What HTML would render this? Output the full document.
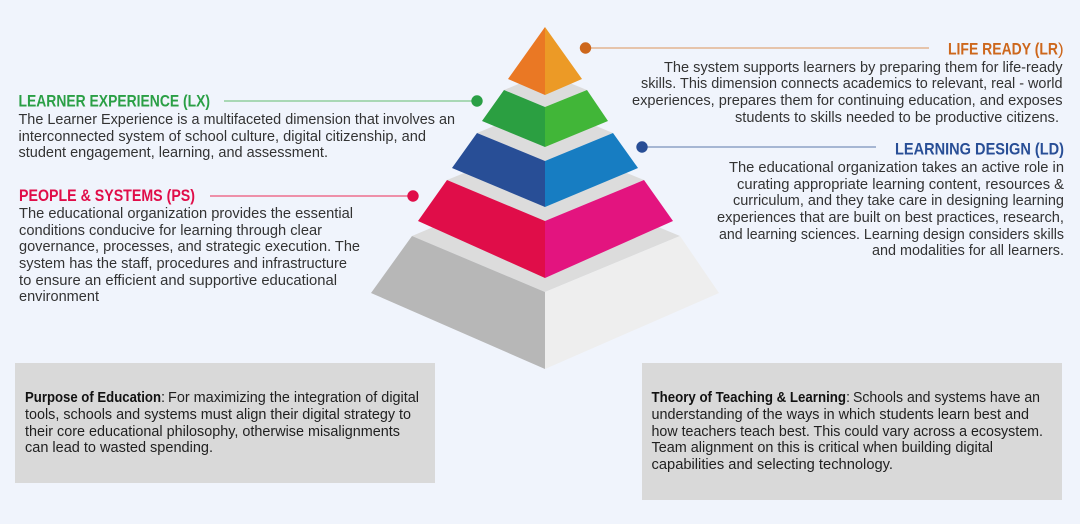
<!DOCTYPE html>
<html><head><meta charset="utf-8"><style>
html,body{margin:0;padding:0;background:#f0f4fc;width:1080px;height:524px;overflow:hidden}
svg{display:block}
text{font-family:"Liberation Sans",sans-serif}
.b{font-size:14.6px;fill:#333}
.k{font-size:14.6px;fill:#1f1f1f}
.kb{font-size:14.6px;fill:#111;font-weight:bold}
.h{font-size:17px;font-weight:bold}
</style></head><body>
<svg width="1080" height="524" viewBox="0 0 1080 524" xmlns="http://www.w3.org/2000/svg">
<rect width="1080" height="524" fill="#f0f4fc"/>
<rect x="15" y="363" width="420" height="120" fill="#d9d9d9"/>
<rect x="642" y="363" width="420" height="137" fill="#d9d9d9"/>

<!-- pyramid -->
<polygon points="412,236 545,180 680,236 545,292" fill="#dcdcdc"/>
<polygon points="371,293 412,236 545,292 545,369" fill="#b7b7b7"/>
<polygon points="545,292 680,236 719,293 545,369" fill="#eeeeee"/>
<polygon points="447,180 545,140 644,180 545,221" fill="#dcdcdc"/>
<polygon points="418,221 447,180 545,221 545,278" fill="#e00d49"/>
<polygon points="545,221 644,180 673,221 545,278" fill="#e3147f"/>
<polygon points="477,133 545,105 613,133 545,161" fill="#dcdcdc"/>
<polygon points="452,168 477,133 545,161 545,207" fill="#284e96"/>
<polygon points="545,161 613,133 638,168 545,207" fill="#177dc2"/>
<polygon points="504,90 545,73 587,90 545,107" fill="#dcdcdc"/>
<polygon points="482,121 504,90 545,107 545,147" fill="#2b9f41"/>
<polygon points="545,107 587,90 608,121 545,147" fill="#41b638"/>
<polygon points="545,27 508,79 545,95" fill="#ea7824"/>
<polygon points="545,27 582,79 545,95" fill="#ec9a26"/>

<!-- connectors -->
<line x1="224" y1="101" x2="477" y2="101" stroke="#a9d8b5" stroke-width="2"/>
<circle cx="477" cy="101" r="5.7" fill="#2a9f45"/>
<line x1="210" y1="196" x2="413" y2="196" stroke="#ee8fa9" stroke-width="2"/>
<circle cx="413" cy="196" r="5.7" fill="#e00d49"/>
<line x1="585" y1="48" x2="929" y2="48" stroke="#e6c4ab" stroke-width="2"/>
<circle cx="585.5" cy="48" r="5.7" fill="#cd671c"/>
<line x1="642" y1="147" x2="876" y2="147" stroke="#a6b6d3" stroke-width="2"/>
<circle cx="642" cy="147" r="5.7" fill="#284e96"/>

<!-- LX -->
<text class="h" fill="#2a9f45" x="18.5" y="106.5" textLength="191.5" lengthAdjust="spacingAndGlyphs">LEARNER EXPERIENCE (LX)</text>
<text class="b" x="18.5" y="124" textLength="436.5" lengthAdjust="spacingAndGlyphs">The Learner Experience is a multifaceted dimension that involves an</text>
<text class="b" x="18.5" y="141" textLength="407.5" lengthAdjust="spacingAndGlyphs">interconnected system of school culture, digital citizenship, and</text>
<text class="b" x="18.5" y="157" textLength="309.5" lengthAdjust="spacingAndGlyphs">student engagement, learning, and assessment.</text>

<!-- PS -->
<text class="h" fill="#e00d49" x="19" y="201" textLength="176" lengthAdjust="spacingAndGlyphs">PEOPLE &amp; SYSTEMS (PS)</text>
<text class="b" x="19" y="218" textLength="334" lengthAdjust="spacingAndGlyphs">The educational organization provides the essential</text>
<text class="b" x="19" y="235" textLength="303" lengthAdjust="spacingAndGlyphs">conditions conducive for learning through clear</text>
<text class="b" x="19" y="251" textLength="341" lengthAdjust="spacingAndGlyphs">governance, processes, and strategic execution. The</text>
<text class="b" x="19" y="268" textLength="328" lengthAdjust="spacingAndGlyphs">system has the staff, procedures and infrastructure</text>
<text class="b" x="19" y="285" textLength="318" lengthAdjust="spacingAndGlyphs">to ensure an efficient and supportive educational</text>
<text class="b" x="19" y="301" textLength="80" lengthAdjust="spacingAndGlyphs">environment</text>

<!-- LR -->
<text class="h" fill="#cd671c" x="948" y="54.5" textLength="110" lengthAdjust="spacingAndGlyphs">LIFE READY (LR</text>
<text class="h" fill="#cd671c" style="font-weight:normal" x="1058" y="54.5">)</text>
<text class="b" x="664" y="72" textLength="398.5" lengthAdjust="spacingAndGlyphs">The system supports learners by preparing them for life-ready</text>
<text class="b" x="641" y="88" textLength="421.5" lengthAdjust="spacingAndGlyphs">skills. This dimension connects academics to relevant, real - world</text>
<text class="b" x="632" y="105" textLength="430.5" lengthAdjust="spacingAndGlyphs">experiences, prepares them for continuing education, and exposes</text>
<text class="b" x="735" y="122" textLength="324" lengthAdjust="spacingAndGlyphs">students to skills needed to be productive citizens.</text>

<!-- LD -->
<text class="h" fill="#284e96" x="895" y="154.5" textLength="169" lengthAdjust="spacingAndGlyphs">LEARNING DESIGN (LD)</text>
<text class="b" x="729" y="172" textLength="335" lengthAdjust="spacingAndGlyphs">The educational organization takes an active role in</text>
<text class="b" x="737" y="189" textLength="327" lengthAdjust="spacingAndGlyphs">curating appropriate learning content, resources &amp;</text>
<text class="b" x="733" y="205" textLength="331" lengthAdjust="spacingAndGlyphs">curriculum, and they take care in designing learning</text>
<text class="b" x="717" y="222" textLength="347" lengthAdjust="spacingAndGlyphs">experiences that are built on best practices, research,</text>
<text class="b" x="719" y="239" textLength="345" lengthAdjust="spacingAndGlyphs">and learning sciences. Learning design considers skills</text>
<text class="b" x="872" y="255" textLength="192" lengthAdjust="spacingAndGlyphs">and modalities for all learners.</text>

<!-- Purpose box -->
<text class="kb" x="25" y="402" textLength="136" lengthAdjust="spacingAndGlyphs">Purpose of Education</text>
<text class="k" x="161" y="402">:</text>
<text class="k" x="168" y="402" textLength="251" lengthAdjust="spacingAndGlyphs">For maximizing the integration of digital</text>
<text class="k" x="25" y="419" textLength="386" lengthAdjust="spacingAndGlyphs">tools, schools and systems must align their digital strategy to</text>
<text class="k" x="25" y="436" textLength="375" lengthAdjust="spacingAndGlyphs">their core educational philosophy, otherwise misalignments</text>
<text class="k" x="25" y="452" textLength="188" lengthAdjust="spacingAndGlyphs">can lead to wasted spending.</text>

<!-- Theory box -->
<text class="kb" x="651.5" y="402" textLength="194.5" lengthAdjust="spacingAndGlyphs">Theory of Teaching &amp; Learning</text>
<text class="k" x="846" y="402">:</text>
<text class="k" x="853" y="402" textLength="187" lengthAdjust="spacingAndGlyphs">Schools and systems have an</text>
<text class="k" x="651.5" y="419" textLength="377.5" lengthAdjust="spacingAndGlyphs">understanding of the ways in which students learn best and</text>
<text class="k" x="651.5" y="436" textLength="391.5" lengthAdjust="spacingAndGlyphs">how teachers teach best. This could vary across a ecosystem.</text>
<text class="k" x="651.5" y="452" textLength="341.5" lengthAdjust="spacingAndGlyphs">Team alignment on this is critical when building digital</text>
<text class="k" x="651.5" y="469" textLength="241.5" lengthAdjust="spacingAndGlyphs">capabilities and selecting technology.</text>
</svg>
</body></html>
